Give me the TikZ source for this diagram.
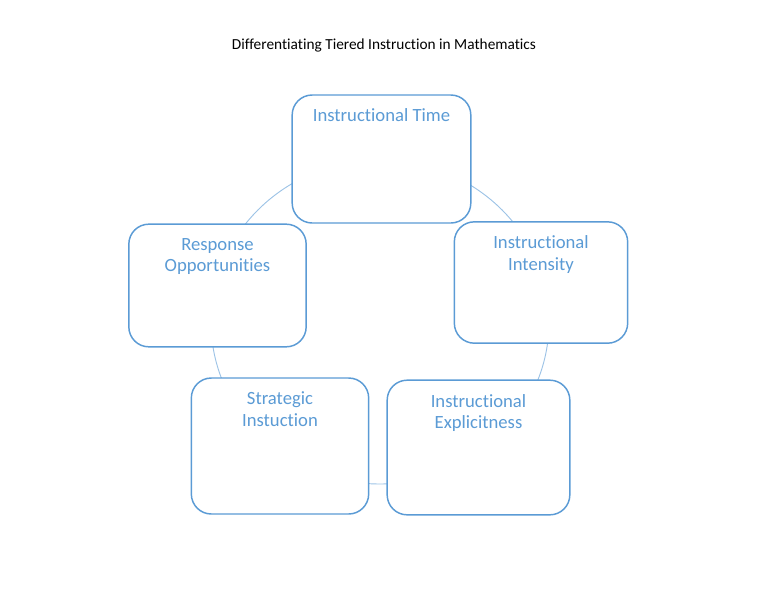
\documentclass[tikz,border=0pt]{standalone}
\usepackage{fontspec}
\setmainfont[Ligatures=NoCommon]{Carlito}
\usepackage{tikz}
\usetikzlibrary{positioning}
\definecolor{accent}{HTML}{5B9BD5}
\definecolor{ringcol}{HTML}{9DC3E6}
\tikzset{
  stage/.style={draw=accent, line width=1.1pt, fill=white, rounded corners=15pt},
  stagetext/.style={font=\fontsize{14}{16}\selectfont, text=accent, align=center, anchor=north},
  ring/.style={draw=ringcol, line width=0.7pt},
  heading/.style={font=\fontsize{11.5}{13}\selectfont, text=black},
}

\begin{document}
\begin{tikzpicture}[x=0.75pt, y=-0.75pt]
  \useasboundingbox (0,0) rectangle (768,594);
  \node[heading] (title) at (384,45) {Differentiating Tiered Instruction in Mathematics};

  % cycle behind the boxes
  \coordinate (hub) at (380,322);
  \draw[ring] (hub) ellipse [x radius=126.75pt, y radius=121.5pt];

  \node[stage, minimum width=134pt, minimum height=96pt,
        label={[stagetext, yshift=-7.5pt]north:Instructional Time}] (time) at (381.5,159) {};
  \node[stage, minimum width=130pt, minimum height=91pt,
        label={[stagetext, yshift=-7.5pt]north:Instructional\\Intensity}] (intens) at (541,282.5) {};
  \node[stage, minimum width=137pt, minimum height=101pt,
        label={[stagetext, yshift=-7.5pt]north:Instructional\\Explicitness}] (explic) at (478.5,447.5) {};
  \node[stage, minimum width=133pt, minimum height=102pt,
        label={[stagetext, yshift=-7.5pt]north:Strategic\\Instuction}] (strat) at (280,446) {};
  \node[stage, minimum width=133pt, minimum height=92pt,
        label={[stagetext, yshift=-7.5pt]north:Response\\Opportunities}] (resp) at (217.5,285.5) {};
\end{tikzpicture}
\end{document}
